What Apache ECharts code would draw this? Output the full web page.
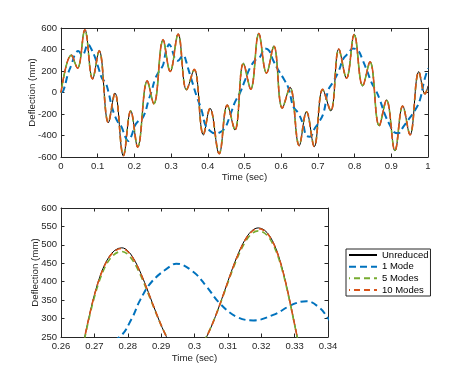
<!DOCTYPE html>
<html><head><meta charset="utf-8">
<script src="https://cdn.jsdelivr.net/npm/echarts@6/dist/echarts.min.js"></script>
<style>html,body{margin:0;padding:0;background:#fff}#c{width:474px;height:379px}</style>
</head><body><div id="c"></div>
<script>
// Time (sec) of the read-off turning points of the multi-mode responses
const tFast = [0, 0.028, 0.045, 0.065, 0.086, 0.104, 0.129, 0.147, 0.170, 0.190, 0.209,
  0.235, 0.253, 0.2782, 0.2975, 0.3191, 0.342, 0.363, 0.388, 0.406, 0.431,
  0.453, 0.474, 0.497, 0.517, 0.539, 0.560, 0.580, 0.603, 0.624, 0.649,
  0.669, 0.690, 0.713, 0.735, 0.757, 0.778, 0.799, 0.822, 0.842, 0.867,
  0.887, 0.910, 0.931, 0.951, 0.975, 0.992, 1.0];
const unreduced = [0, 350, 225, 585, 126, 390, -281, -5, -590, -169, -510,
  110, -107, 492, 194, 546, 23, 216, -395, -147, -572,
  -116, -349, 272, 30, 550, 179, 433, -147, 48, -495,
  -178, -504, 30, -172, 405, 132, 541, 61, 287, -311,
  -70, -544, -125, -395, 194, -15, 60];
const modes5 = [0, 345, 228, 578, 130, 385, -276, -8, -582, -172, -503,
  106, -103, 482, 198, 538, 28, 212, -390, -150, -565,
  -119, -344, 268, 34, 542, 183, 428, -143, 45, -489,
  -181, -497, 27, -168, 400, 136, 534, 65, 283, -306,
  -73, -537, -128, -390, 190, -12, 58];
const modes10 = [0, 349, 226, 584, 127, 389, -280, -6, -588, -170, -509,
  109, -106, 490, 195, 544, 24, 215, -394, -148, -570,
  -117, -348, 271, 31, 548, 180, 432, -146, 47, -494,
  -179, -503, 29, -171, 404, 133, 540, 62, 286, -310,
  -71, -542, -126, -394, 193, -14, 60];
// 1 Mode response
const tOne = [0, 0.006, 0.020, 0.029, 0.038, 0.047, 0.058, 0.074, 0.083, 0.093,
  0.102, 0.112, 0.121, 0.129, 0.138, 0.147, 0.156, 0.165, 0.174, 0.183,
  0.192, 0.201, 0.211, 0.220, 0.229, 0.238, 0.247, 0.256, 0.265, 0.2775,
  0.2812, 0.2837, 0.2872, 0.2927, 0.2945, 0.2996, 0.3037, 0.3076, 0.3126, 0.3176,
  0.3236, 0.3296, 0.3336, 0.3376, 0.340, 0.345, 0.356, 0.370, 0.383, 0.393,
  0.404, 0.420, 0.433, 0.447, 0.460, 0.474, 0.488, 0.501, 0.515, 0.529,
  0.542, 0.556, 0.567, 0.578, 0.592, 0.606, 0.620, 0.633, 0.647, 0.660,
  0.668, 0.678, 0.692, 0.701, 0.715, 0.728, 0.742, 0.756, 0.770, 0.783,
  0.795, 0.810, 0.822, 0.833, 0.847, 0.858, 0.869, 0.883, 0.896, 0.908,
  0.919, 0.933, 0.946, 0.965, 0.978, 0.989, 1.0];
const oneMode = [0, 14, 184, 262, 355, 386, 345, 448, 402, 324,
  230, 130, 95, 10, -125, -218, -281, -320, -404, -451,
  -404, -311, -265, -249, -188, -79, 14, 123, 184, 250,
  300, 350, 400, 442, 449, 427, 386, 341, 305, 295,
  310, 339, 347, 328, 301, 240, 116, -39, -163, -300,
  -350, -380, -370, -330, -220, -90, 0, 110, 230, 300,
  330, 410, 390, 300, 209, 132, 39, -132, -194, -300,
  -400, -411, -330, -287, -194, 20, 101, 194, 318, 364,
  410, 390, 300, 209, 86, 20, -70, -209, -302, -370,
  -380, -318, -256, -163, -70, 101, 225];
const seriesNames = ['Unreduced', '1 Mode', '5 Modes', '10 Modes'];
const topTicks = { xMin: 0, xMax: 1, xStep: 0.1, yMin: -600, yMax: 600, yStep: 200 };
const zoomTicks = { xMin: 0.26, xMax: 0.34, xStep: 0.01, yMin: 250, yMax: 600, yStep: 50 };

function pairs(t, v) { return t.map((x, i) => [x, v[i]]); }

const FONT = 'Liberation Sans, Arial, Helvetica, sans-serif';
const AX = '#262626';
function xAx(grid, r, pos, label, nameGap) {
  return {
    type: 'value', gridIndex: grid, position: pos, min: r.xMin, max: r.xMax, interval: r.xStep,
    name: label ? 'Time (sec)' : '', nameLocation: 'middle', nameGap: nameGap, nameMoveOverlap: false,
    nameTextStyle: { fontFamily: FONT, fontSize: 9.7, color: AX },
    axisLine: { show: true, onZero: false, lineStyle: { color: AX, width: 1 } },
    axisTick: { show: true, inside: true, length: 3.5, lineStyle: { color: AX } },
    axisLabel: { show: label, margin: 4, fontFamily: FONT, fontSize: 9.5, color: AX },
    splitLine: { show: false }
  };
}
function yAx(grid, r, pos, label, nameGap) {
  return {
    type: 'value', gridIndex: grid, position: pos, min: r.yMin, max: r.yMax, interval: r.yStep,
    name: label ? 'Deflection (mm)' : '', nameLocation: 'middle', nameGap: nameGap, nameMoveOverlap: false,
    nameTextStyle: { fontFamily: FONT, fontSize: 9.7, color: AX },
    axisLine: { show: true, onZero: false, lineStyle: { color: AX, width: 1 } },
    axisTick: { show: true, inside: true, length: 3.5, lineStyle: { color: AX } },
    axisLabel: { show: label, margin: 4, fontFamily: FONT, fontSize: 9.5, color: AX },
    splitLine: { show: false }
  };
}
const styles = [
  { color: '#000000', width: 1, type: 'solid' },
  { color: '#0072BD', width: 2, type: [7, 4] },
  { color: '#77AC30', width: 1.6, type: [6, 4], dashOffset: 5 },
  { color: '#D95319', width: 1.6, type: [6, 4] }
];
const dataSets = [pairs(tFast, unreduced), pairs(tOne, oneMode), pairs(tFast, modes5), pairs(tFast, modes10)];
const series = [];
[0, 1].forEach(g => {
  seriesNames.forEach((n, i) => {
    series.push({
      name: n, type: 'line', xAxisIndex: g * 2, yAxisIndex: g * 2,
      data: dataSets[i], showSymbol: false, symbol: 'none', smooth: 0.4,
      clip: true, lineStyle: styles[i], itemStyle: { color: styles[i].color },
      emphasis: { disabled: true }
    });
  });
});

const chart = echarts.init(document.getElementById('c'), null, { renderer: 'canvas' });
chart.setOption({
  animation: false,
  backgroundColor: '#ffffff',
  grid: [
    { left: 61, top: 28, width: 367, height: 129, containLabel: false },
    { left: 61, top: 208, width: 267, height: 129, containLabel: false }
  ],
  xAxis: [xAx(0, topTicks, 'bottom', true, 15), xAx(0, topTicks, 'top', false, 0),
          xAx(1, zoomTicks, 'bottom', true, 16), xAx(1, zoomTicks, 'top', false, 0)],
  yAxis: [yAx(0, topTicks, 'left', true, 24), yAx(0, topTicks, 'right', false, 0),
          yAx(1, zoomTicks, 'left', true, 21), yAx(1, zoomTicks, 'right', false, 0)],
  legend: {
    data: seriesNames, orient: 'vertical', left: 346, top: 249,
    itemWidth: 28, itemHeight: 10, itemGap: 1.67, padding: [1, 2, 1, 2],
    borderColor: AX, borderWidth: 1, backgroundColor: '#fff', borderRadius: 0,
    itemStyle: { opacity: 0 },
    textStyle: { fontFamily: FONT, fontSize: 9.5, color: '#000' },
    selectedMode: false
  },
  series: series
});
</script></body></html>
